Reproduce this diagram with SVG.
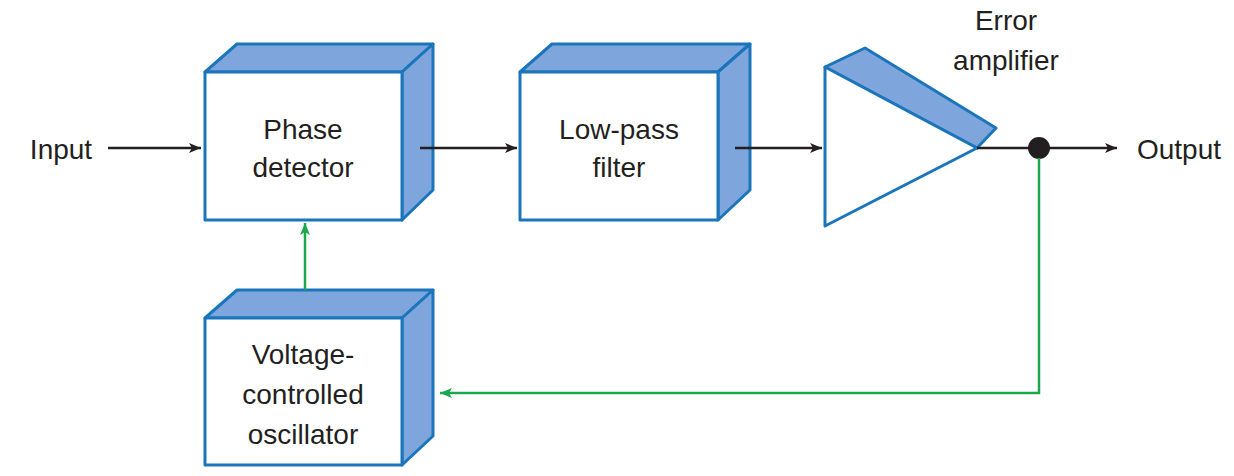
<svg xmlns="http://www.w3.org/2000/svg" width="1234" height="476" viewBox="0 0 1234 476">
<style>
.f{fill:#fff;stroke:#1a75bb;stroke-width:3;stroke-linejoin:round}
.s{fill:#7fa6dc;stroke:#1a75bb;stroke-width:3;stroke-linejoin:round}
text{font-family:"Liberation Sans",Arial,sans-serif;font-size:28px;fill:#231f20;text-anchor:middle}
.k{stroke:#231f20;stroke-width:2.5;fill:none}
.g{stroke:#1aa84a;stroke-width:2.5;fill:none}
</style>
<defs>
<marker id="ak" viewBox="0 0 12 10" refX="12" refY="5" markerWidth="12" markerHeight="10" markerUnits="userSpaceOnUse" orient="auto"><path d="M0,0 L12,5 L0,10 L3,5z" fill="#231f20"/></marker>
<marker id="ag" viewBox="0 0 12 10" refX="12" refY="5" markerWidth="12" markerHeight="10" markerUnits="userSpaceOnUse" orient="auto"><path d="M0,0 L12,5 L0,10 L3,5z" fill="#1aa84a"/></marker>
</defs>
<g id="pd">
<path class="s" d="M205,72 L237,44 L433,44 L402,72z"/>
<path class="s" d="M402,72 L433,44 L433,190 L402,220z"/>
<rect class="f" x="205" y="72" width="197" height="148"/>
<text x="303" y="139">Phase</text><text x="303" y="177">detector</text>
</g>
<g id="lpf">
<path class="s" d="M520,72 L552,44 L750,44 L718,72z"/>
<path class="s" d="M718,72 L750,44 L750,190 L718,220z"/>
<rect class="f" x="520" y="72" width="198" height="148"/>
<text x="619" y="139">Low-pass</text><text x="619" y="177">filter</text>
</g>
<g id="vco">
<path class="s" d="M205,318 L237,290 L433,290 L402,318z"/>
<path class="s" d="M402,318 L433,290 L433,436 L402,465z"/>
<rect class="f" x="205" y="318" width="197" height="147"/>
<text x="303" y="364">Voltage-</text><text x="303" y="404">controlled</text><text x="303" y="444">oscillator</text>
</g>
<g id="amp">
<path class="s" d="M825,67 L865,48 L996,128 L977,148z"/>
<path class="f" d="M825,67 L977,148 L825,226z"/>
<text x="1006" y="30">Error</text><text x="1006" y="70">amplifier</text>
</g>
<g id="labels">
<text x="61" y="159">Input</text>
<text x="1179" y="159">Output</text>
</g>
<g id="connectors">
<line class="k" x1="108" y1="148" x2="201" y2="148" marker-end="url(#ak)"/>
<line class="k" x1="420" y1="148" x2="517" y2="148" marker-end="url(#ak)"/>
<line class="k" x1="735" y1="148" x2="822" y2="148" marker-end="url(#ak)"/>
<line class="k" x1="977" y1="148" x2="1117" y2="148" marker-end="url(#ak)"/>
<circle cx="1039" cy="148" r="11" fill="#231f20"/>
<path class="g" d="M1039,158 L1039,393 L440,393" marker-end="url(#ag)"/>
<line class="g" x1="305" y1="290" x2="305" y2="223" marker-end="url(#ag)"/>
</g>
</svg>
